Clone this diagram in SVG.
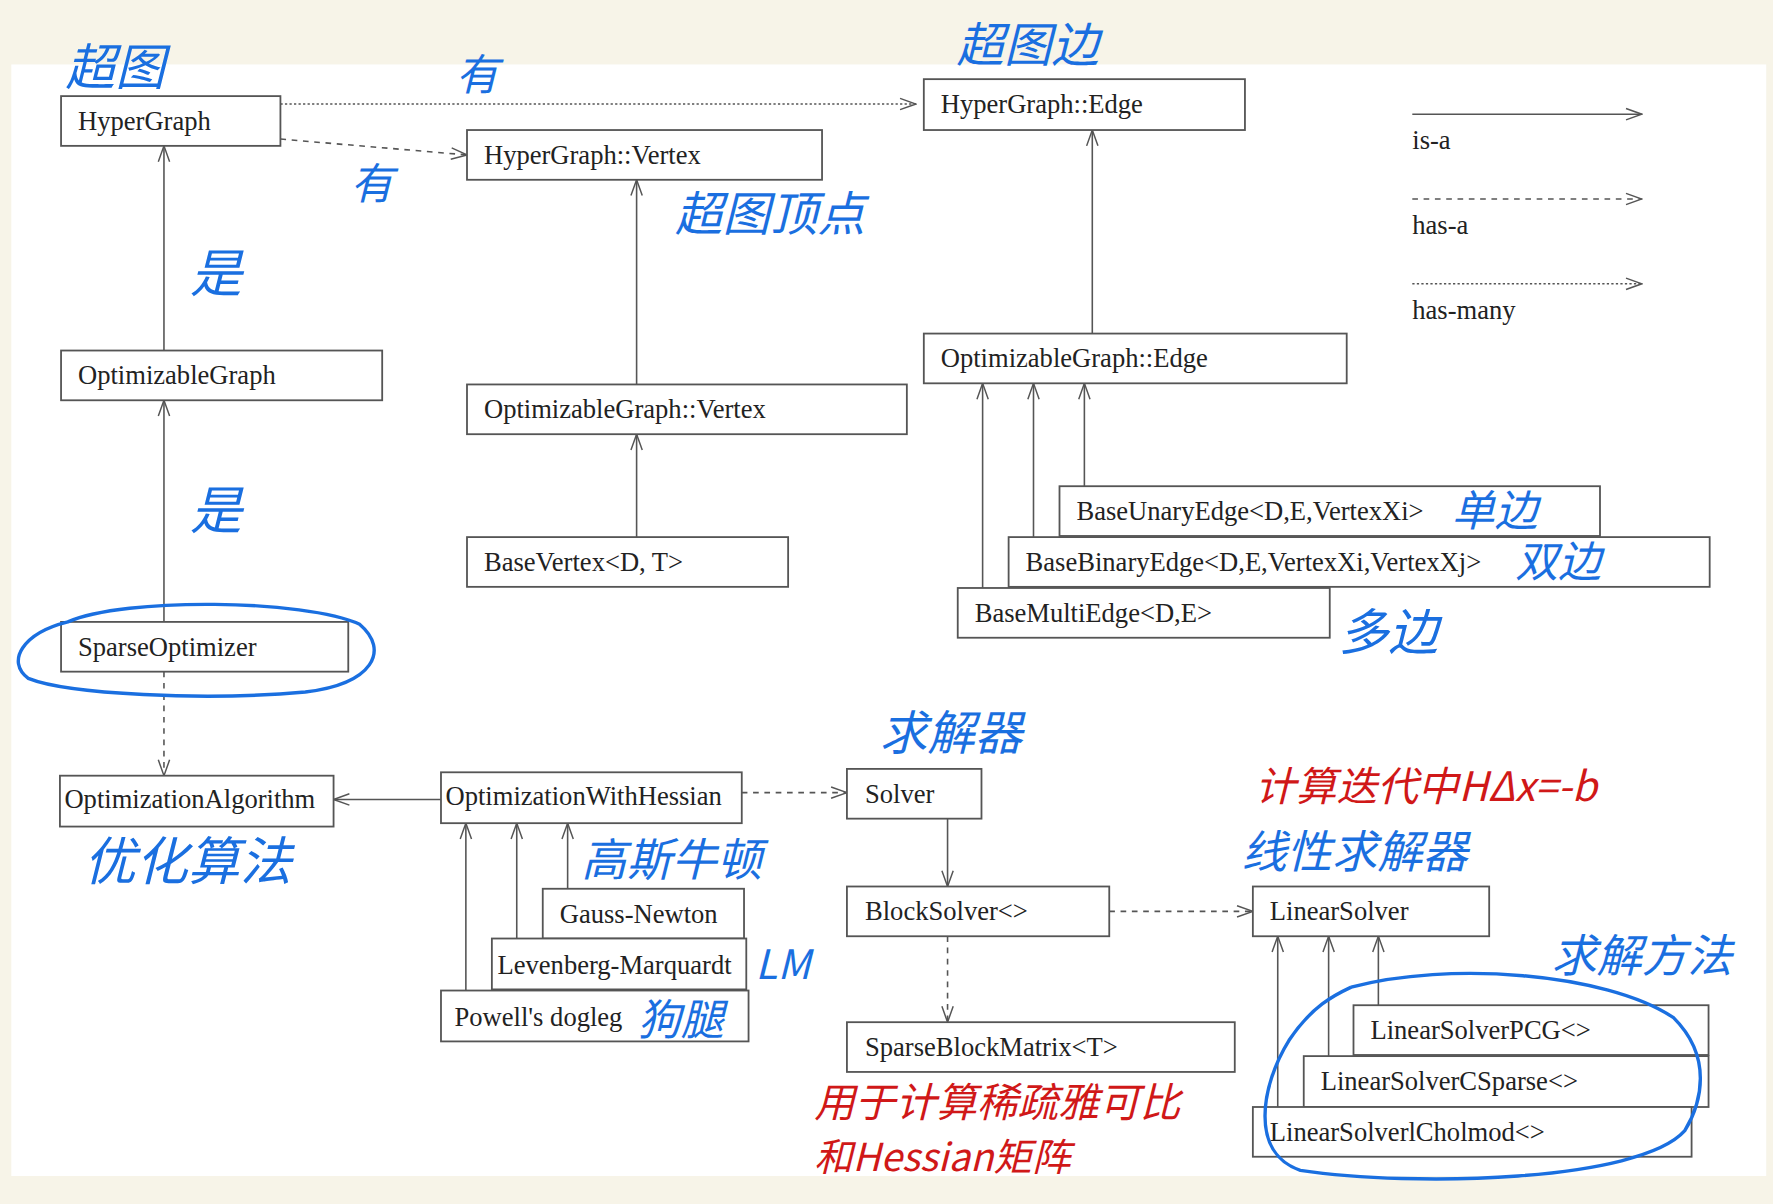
<svg xmlns="http://www.w3.org/2000/svg" width="1773" height="1204" viewBox="0 0 1773 1204">
<style>
.b rect{fill:#fff;stroke:#555;stroke-width:1.6}
.b text,.lg text{font-family:"Liberation Serif",serif;font-size:23.5px;fill:#222}
.c line{stroke:#555;stroke-width:1.4;fill:none}
.dash{stroke-dasharray:5 5}
.dot{stroke-dasharray:2 2}
.hb{font-family:"Noto Sans CJK SC",sans-serif;fill:#1a6fe0;font-style:italic}
.hr{font-family:"Noto Sans CJK SC",sans-serif;fill:#d01818;font-style:italic}
</style>
<defs>
<marker id="a" markerWidth="16" markerHeight="12" refX="15" refY="6" orient="auto" markerUnits="userSpaceOnUse"><path d="M1,1 L15,6 L1,11" fill="none" stroke="#555" stroke-width="1.3"/></marker>
</defs>
<rect width="1773" height="1204" fill="#f7f4e8"/>
<g transform="scale(1.13074)">
<rect x="10" y="57" width="1552" height="983" fill="#fff"/>
<g class="c">
<line class="dot" x1="248" y1="92" x2="810" y2="92" marker-end="url(#a)"/>
<line class="dash" x1="248" y1="123" x2="413" y2="137" marker-end="url(#a)"/>
<line x1="145" y1="310" x2="145" y2="129" marker-end="url(#a)"/>
<line x1="145" y1="550" x2="145" y2="354" marker-end="url(#a)"/>
<line x1="563" y1="340" x2="563" y2="159" marker-end="url(#a)"/>
<line x1="563" y1="475" x2="563" y2="384" marker-end="url(#a)"/>
<line x1="966" y1="295" x2="966" y2="115" marker-end="url(#a)"/>
<line x1="959" y1="430" x2="959" y2="339" marker-end="url(#a)"/>
<line x1="914" y1="475" x2="914" y2="339" marker-end="url(#a)"/>
<line x1="869" y1="520" x2="869" y2="339" marker-end="url(#a)"/>
<line class="dash" x1="145" y1="594" x2="145" y2="686" marker-end="url(#a)"/>
<line x1="390" y1="707" x2="295" y2="707" marker-end="url(#a)"/>
<line class="dash" x1="656" y1="701" x2="749" y2="701" marker-end="url(#a)"/>
<line x1="502" y1="786" x2="502" y2="728" marker-end="url(#a)"/>
<line x1="457" y1="830" x2="457" y2="728" marker-end="url(#a)"/>
<line x1="412" y1="876" x2="412" y2="728" marker-end="url(#a)"/>
<line x1="838" y1="724" x2="838" y2="784" marker-end="url(#a)"/>
<line class="dash" x1="838" y1="828" x2="838" y2="904" marker-end="url(#a)"/>
<line class="dash" x1="981" y1="806" x2="1108" y2="806" marker-end="url(#a)"/>
<line x1="1219" y1="889" x2="1219" y2="828" marker-end="url(#a)"/>
<line x1="1175" y1="934" x2="1175" y2="828" marker-end="url(#a)"/>
<line x1="1130" y1="979" x2="1130" y2="828" marker-end="url(#a)"/>
</g>
<g class="b">
<g id="HyperGraph"><rect x="54" y="85" width="194" height="44"/><text x="69" y="115">HyperGraph</text></g>
<g id="HGVertex"><rect x="413" y="115" width="314" height="44"/><text x="428" y="145">HyperGraph::Vertex</text></g>
<g id="HGEdge"><rect x="817" y="70" width="284" height="45"/><text x="832" y="100">HyperGraph::Edge</text></g>
<g id="OptGraph"><rect x="54" y="310" width="284" height="44"/><text x="69" y="340">OptimizableGraph</text></g>
<g id="OGVertex"><rect x="413" y="340" width="389" height="44"/><text x="428" y="370">OptimizableGraph::Vertex</text></g>
<g id="OGEdge"><rect x="817" y="295" width="374" height="44"/><text x="832" y="325">OptimizableGraph::Edge</text></g>
<g id="BaseVertex"><rect x="413" y="475" width="284" height="44"/><text x="428" y="505">BaseVertex&lt;D, T&gt;</text></g>
<g id="BaseUnary"><rect x="937" y="430" width="478" height="44"/><text x="952" y="460">BaseUnaryEdge&lt;D,E,VertexXi&gt;</text></g>
<g id="BaseBinary"><rect x="892" y="475" width="620" height="44"/><text x="907" y="505">BaseBinaryEdge&lt;D,E,VertexXi,VertexXj&gt;</text></g>
<g id="BaseMulti"><rect x="847" y="520" width="329" height="44"/><text x="862" y="550">BaseMultiEdge&lt;D,E&gt;</text></g>
<g id="SparseOpt"><rect x="54" y="550" width="254" height="44"/><text x="69" y="580">SparseOptimizer</text></g>
<g id="OptAlg"><rect x="53" y="686" width="242" height="45"/><text x="57" y="715">OptimizationAlgorithm</text></g>
<g id="OWH"><rect x="390" y="683" width="266" height="45"/><text x="394" y="712">OptimizationWithHessian</text></g>
<g id="GN"><rect x="480" y="786" width="178" height="44"/><text x="495" y="816">Gauss-Newton</text></g>
<g id="LM"><rect x="435" y="830" width="225" height="45"/><text x="440" y="861">Levenberg-Marquardt</text></g>
<g id="Powell"><rect x="390" y="876" width="272" height="45"/><text x="402" y="907">Powell's dogleg</text></g>
<g id="Solver"><rect x="749" y="680" width="119" height="44"/><text x="765" y="710">Solver</text></g>
<g id="BlockSolver"><rect x="749" y="784" width="232" height="44"/><text x="765" y="814">BlockSolver&lt;&gt;</text></g>
<g id="SBM"><rect x="749" y="904" width="343" height="44"/><text x="765" y="934">SparseBlockMatrix&lt;T&gt;</text></g>
<g id="LinearSolver"><rect x="1108" y="784" width="209" height="44"/><text x="1123" y="814">LinearSolver</text></g>
<g id="PCG"><rect x="1197" y="889" width="314" height="44"/><text x="1212" y="919">LinearSolverPCG&lt;&gt;</text></g>
<g id="CSparse"><rect x="1153" y="934" width="358" height="45"/><text x="1168" y="964">LinearSolverCSparse&lt;&gt;</text></g>
<g id="Cholmod"><rect x="1108" y="979" width="388" height="44"/><text x="1123" y="1009">LinearSolverlCholmod&lt;&gt;</text></g>
</g>
<g class="lg">
<line x1="1249" y1="101" x2="1452" y2="101" stroke="#555" stroke-width="1.4" marker-end="url(#a)"/>
<line x1="1249" y1="176" x2="1452" y2="176" stroke="#555" stroke-width="1.4" stroke-dasharray="5 5" marker-end="url(#a)"/>
<line x1="1249" y1="251" x2="1452" y2="251" stroke="#555" stroke-width="1.4" stroke-dasharray="2 2" marker-end="url(#a)"/>
<text x="1249" y="132">is-a</text><text x="1249" y="207">has-a</text><text x="1249" y="282">has-many</text>
</g>
<g fill="none" stroke="#1a6fe0" stroke-width="3">
<path d="M60,550 C110,528 270,530 318,552 C345,575 330,605 270,612 C180,620 60,614 25,600 C5,585 20,560 60,550 Z"/>
<path d="M1195,873 C1280,850 1420,860 1480,900 C1515,935 1505,975 1490,1000 C1450,1045 1250,1050 1150,1035 C1105,1020 1115,960 1140,920 C1160,890 1180,880 1195,873"/>
</g>
<g class="hb">
<text x="58" y="75" font-size="44">超图</text>
<text x="403" y="80" font-size="38">有</text>
<text x="310" y="176" font-size="38">有</text>
<text x="846" y="55" font-size="42">超图边</text>
<text x="597" y="204" font-size="42">超图顶点</text>
<text x="168" y="258" font-size="46">是</text>
<text x="168" y="468" font-size="46">是</text>
<text x="1284" y="465" font-size="38">单边</text>
<text x="1340" y="510" font-size="38">双边</text>
<text x="1184" y="575" font-size="44">多边</text>
<text x="778" y="663" font-size="42">求解器</text>
<text x="74" y="778" font-size="46">优化算法</text>
<text x="514" y="775" font-size="40">高斯牛顿</text>
<text x="668" y="866" font-size="36">LM</text>
<text x="564" y="915" font-size="38">狗腿</text>
<text x="1098" y="768" font-size="40">线性求解器</text>
<text x="1372" y="860" font-size="40">求解方法</text>
</g>
<g class="hr">
<text x="1110" y="708" font-size="36">计算迭代中HΔx=-b</text>
<text x="720" y="988" font-size="36">用于计算稀疏雅可比</text>
<text x="720" y="1036" font-size="34">和Hessian矩阵</text>
</g>
</g>
</svg>
